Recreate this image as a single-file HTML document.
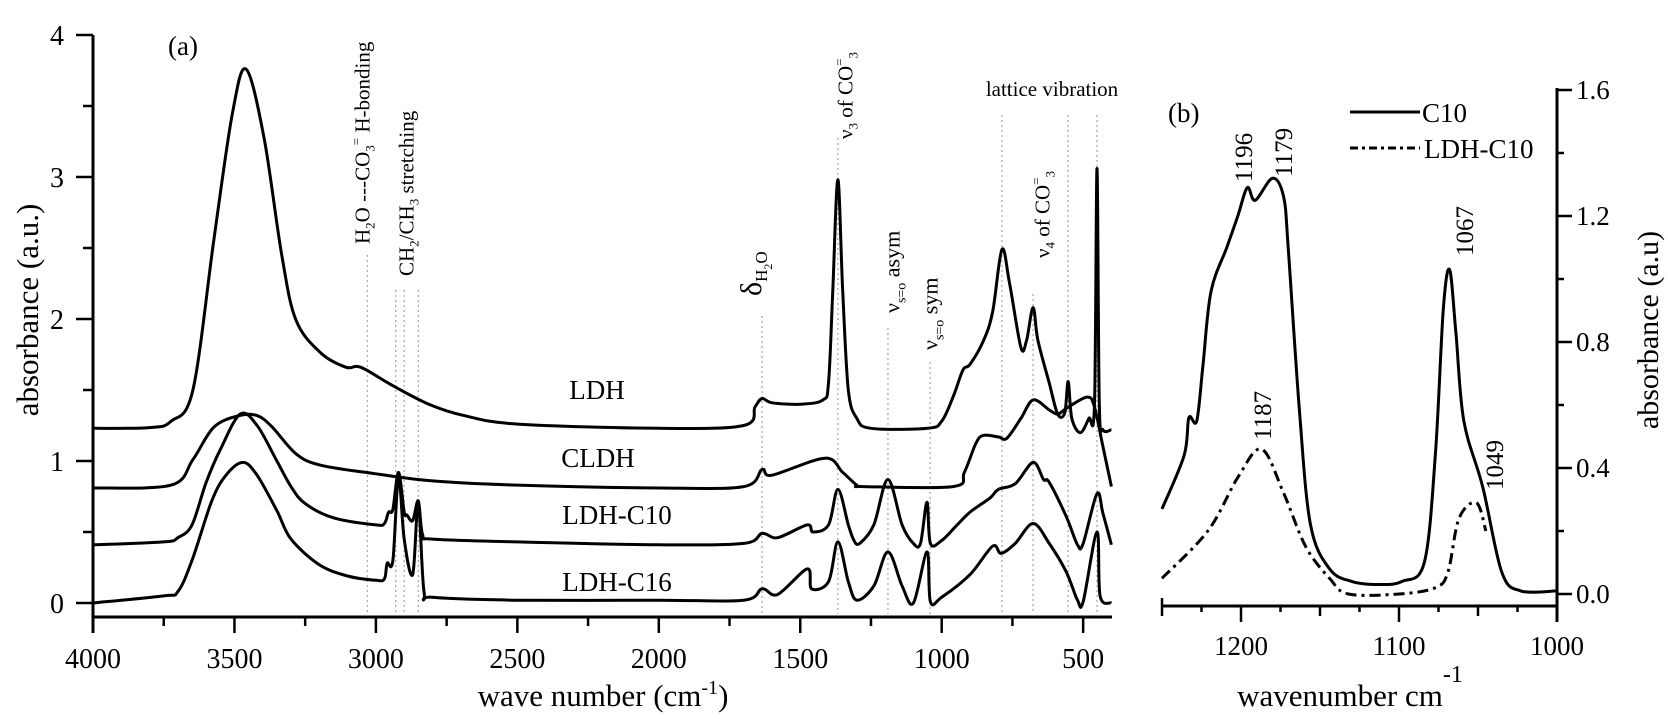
<!DOCTYPE html>
<html><head><meta charset="utf-8">
<style>
html,body{margin:0;padding:0;background:#fff;}
svg{display:block;font-family:"Liberation Serif",serif;}
</style></head>
<body>
<svg id="fig" width="1668" height="719" viewBox="0 0 1668 719" xmlns="http://www.w3.org/2000/svg">
<g id="panelA"></g>
<g id="panelB"></g>
</svg>
<script>
// ---------- Panel (a) data ----------
const ldhWn = [4000,3800,3724,3647,3572,3508,3459,3395,3332,3282,3194,3105,3053,2940,2813,2688,2498,2000,1700,1660,1635,1600,1500,1420,1400,1385,1367,1350,1330,1300,1250,1050,1000,960,925,900,854,820,787,760,720,700,677,660,620,590,565,553,540,510,480,460,451,443,430,400];
const ldhAbs = [1.23,1.235,1.28,1.50,2.57,3.44,3.76,3.27,2.44,1.99,1.76,1.66,1.66,1.53,1.40,1.32,1.26,1.23,1.25,1.38,1.44,1.41,1.40,1.43,1.55,2.2,2.98,2.2,1.5,1.30,1.23,1.23,1.28,1.45,1.64,1.68,1.84,2.05,2.49,2.25,1.80,1.85,2.08,1.85,1.55,1.33,1.34,1.56,1.30,1.20,1.30,1.40,3.06,1.40,1.22,1.22];
const cldhWn = [4000,3724,3647,3572,3483,3420,3367,3282,3194,3000,2800,2500,2000,1700,1635,1600,1413,1350,1300,1276,960,920,880,854,800,770,720,677,620,590,560,486,460,430,400];
const cldhAbs = [0.81,0.83,1.01,1.24,1.32,1.32,1.24,1.05,0.97,0.91,0.86,0.83,0.81,0.82,0.94,0.90,1.02,0.92,0.83,0.82,0.82,0.92,1.12,1.18,1.17,1.16,1.30,1.43,1.36,1.33,1.37,1.45,1.38,1.10,0.82];
const c10Wn = [4000,3750,3700,3650,3600,3550,3480,3420,3350,3300,3250,3150,3000,2970,2955,2940,2920,2900,2890,2870,2850,2835,2800,2500,2000,1700,1635,1580,1475,1455,1400,1367,1330,1310,1290,1240,1190,1140,1100,1075,1052,1040,1000,950,900,829,800,740,677,640,620,560,520,500,451,430,400];
const c10Abs = [0.41,0.43,0.46,0.55,0.85,1.08,1.33,1.25,1.00,0.82,0.70,0.60,0.55,0.56,0.64,0.66,0.92,0.64,0.62,0.58,0.72,0.48,0.45,0.43,0.41,0.42,0.49,0.46,0.55,0.50,0.55,0.80,0.55,0.44,0.42,0.55,0.87,0.55,0.42,0.42,0.71,0.42,0.44,0.54,0.64,0.74,0.80,0.84,0.99,0.87,0.85,0.61,0.41,0.42,0.77,0.63,0.41];
const c16Wn = [4000,3750,3700,3650,3580,3530,3470,3420,3350,3300,3200,3100,3000,2970,2960,2940,2920,2900,2870,2850,2830,2800,2500,2000,1700,1635,1580,1475,1460,1400,1367,1330,1300,1240,1190,1140,1100,1052,1040,1000,900,820,790,740,677,620,560,520,500,451,440,400];
const c16Abs = [0.00,0.05,0.08,0.30,0.72,0.90,0.99,0.90,0.65,0.45,0.27,0.19,0.16,0.17,0.28,0.30,0.89,0.45,0.20,0.70,0.08,0.04,0.02,0.02,0.02,0.10,0.06,0.24,0.10,0.15,0.43,0.15,0.02,0.12,0.36,0.12,0.00,0.36,0.01,0.04,0.20,0.40,0.35,0.42,0.56,0.42,0.22,0.02,0.01,0.50,0.05,0.00];
const aXTicks = [4000,3500,3000,2500,2000,1500,1000,500];
const aYTicks = [0,1,2,3,4];
const guideWn = [3030,2930,2900,2850,1635,1367,1190,1041,787,677,553,451];
const guideTop = [255,290,290,290,316,138,328,362,115,294,115,115];
// ---------- Panel (b) data ----------
const bC10Wn = [1250,1236,1233,1228,1224,1219,1209,1202,1196,1191,1180,1173,1170,1163,1156,1144,1130,1113,1098,1084,1077,1072,1068,1064,1059,1047,1035,1023,1000];
const bC10Abs = [0.27,0.44,0.56,0.55,0.73,0.96,1.10,1.20,1.29,1.25,1.32,1.26,1.09,0.58,0.22,0.08,0.04,0.03,0.04,0.10,0.44,0.90,1.03,0.83,0.55,0.34,0.07,0.01,0.01];
const bLdhWn = [1250,1221,1202,1187,1173,1159,1144,1132,1100,1077,1069,1062,1051,1045];
const bLdhAbs = [0.05,0.20,0.37,0.46,0.32,0.15,0.05,0.00,0.00,0.02,0.07,0.24,0.29,0.20];
const bXTicks = [1200,1100,1000];
const bYTicks = [0.0,0.4,0.8,1.2,1.6];

const NS = "http://www.w3.org/2000/svg";
function mk(tag, attrs, parent, text){
  const e = document.createElementNS(NS, tag);
  for (const k in attrs) e.setAttribute(k, attrs[k]);
  if (text !== undefined) e.textContent = text;
  parent.appendChild(e);
  return e;
}
function smoothPath(pts){
  let d = "M" + pts[0][0].toFixed(1) + "," + pts[0][1].toFixed(1);
  for (let i=0;i<pts.length-1;i++){
    const p0 = pts[Math.max(0,i-1)], p1 = pts[i], p2 = pts[i+1], p3 = pts[Math.min(pts.length-1,i+2)];
    const c1x = p1[0]+(p2[0]-p0[0])/6, c1y = p1[1]+(p2[1]-p0[1])/6;
    const c2x = p2[0]-(p3[0]-p1[0])/6, c2y = p2[1]-(p3[1]-p1[1])/6;
    d += " C"+c1x.toFixed(1)+","+c1y.toFixed(1)+" "+c2x.toFixed(1)+","+c2y.toFixed(1)+" "+p2[0].toFixed(1)+","+p2[1].toFixed(1);
  }
  return d;
}

// ---------- Panel (a) ----------
const A = document.getElementById('panelA');
const ax = w => 93 + (4000 - w) * 0.2829;
const ay = v => 603 - v * 142;

for (let i=0;i<guideWn.length;i++){
  const g = mk('line',{x1:ax(guideWn[i]),x2:ax(guideWn[i]),y1:guideTop[i],y2:614,stroke:'#aaa','stroke-width':1.3,'stroke-dasharray':'2,3'},A);
  
  
}
let e = mk('line',{x1:93,y1:35,x2:93,y2:633,stroke:'#000','stroke-width':3},A);
 
e = mk('line',{x1:92,y1:617,x2:1112,y2:617,stroke:'#000','stroke-width':3},A);
 
for (let w=4000; w>=500; w-=250){
  const major = (w % 500 === 0);
  const t = mk('line',{x1:ax(w),x2:ax(w),y1:617,y2:major?633:626,stroke:'#000','stroke-width':2.5},A);
   
}
aXTicks.forEach(w=>{
  const t = mk('text',{x:ax(w),y:668,'font-size':28,'text-anchor':'middle'},A,String(w));
   
});
for (let v=0; v<=4; v+=0.5){
  const major = Number.isInteger(v);
  const t = mk('line',{x1:major?76:83,x2:93,y1:ay(v),y2:ay(v),stroke:'#000','stroke-width':2.5},A);
   
}
aYTicks.forEach(v=>{
  const t = mk('text',{x:57,y:ay(v)+10,'font-size':28,'text-anchor':'middle'},A,String(v));
   
});
e = mk('text',{x:0,y:0,'font-size':31,'text-anchor':'middle',transform:'translate(38,310) rotate(-90)'},A,'absorbance (a.u.)');
 
e = mk('text',{x:603,y:706,'font-size':31,'text-anchor':'middle'},A);
 
e.innerHTML = 'wave number (cm<tspan dy="-12" font-size="20">-1</tspan><tspan dy="12">)</tspan>';
e = mk('text',{x:168,y:55,'font-size':27},A,'(a)');
 

const seriesA = [[ldhWn,ldhAbs,'ldh-spectrum'],[cldhWn,cldhAbs,'cldh-spectrum'],[c10Wn,c10Abs,'ldh-c10-spectrum'],[c16Wn,c16Abs,'ldh-c16-spectrum']];
seriesA.forEach(s=>{
  const pts = s[0].map((w,i)=>[ax(w), ay(s[1][i])]);
  const p = mk('path',{d:smoothPath(pts),fill:'none',stroke:'#000','stroke-width':3,'stroke-linejoin':'round'},A);
  
  
});
const curveLabels = [['LDH',597,399],['CLDH',598,467],['LDH-C10',617,524],['LDH-C16',617,591]];
curveLabels.forEach(c=>{
  const t = mk('text',{x:c[1],y:c[2],'font-size':27,'text-anchor':'middle'},A,c[0]);
   
});
function rot(html, x, yb, fs, name){
  const t = mk('text',{x:0,y:0,'font-size':fs,transform:'translate('+(x+fs*0.35)+','+yb+') rotate(-90)'},A);
  t.innerHTML = html;
  
  
}
rot('H<tspan dy="5" font-size="13">2</tspan><tspan dy="-5">O ---CO</tspan><tspan dy="5" font-size="13">3</tspan><tspan dy="-14" font-size="13">=</tspan><tspan dy="9"> H-bonding</tspan>', 362, 244, 21, 'annotation-h-bonding');
rot('CH<tspan dy="5" font-size="13">2</tspan><tspan dy="-5">/CH</tspan><tspan dy="5" font-size="13">3</tspan><tspan dy="-5"> stretching</tspan>', 406, 276, 21, 'annotation-ch-stretching');
rot('<tspan font-size="30">δ</tspan><tspan dy="6" font-size="17">H</tspan><tspan dy="5" font-size="12">2</tspan><tspan dy="-5" font-size="17">O</tspan>', 752, 296, 26, 'annotation-delta-h2o');
rot('ν<tspan dy="5" font-size="13">3</tspan><tspan dy="-5"> of CO</tspan><tspan dy="-9" font-size="13">=</tspan><tspan dy="14" font-size="13">3</tspan>', 845, 139, 21, 'annotation-v3-co3');
rot('ν<tspan dy="6" font-size="14">s=o</tspan><tspan dy="-6"> asym</tspan>', 892, 313, 22, 'annotation-so-asym');
rot('ν<tspan dy="6" font-size="14">s=o</tspan><tspan dy="-6"> sym</tspan>', 930, 350, 22, 'annotation-so-sym');
rot('ν<tspan dy="5" font-size="13">4</tspan><tspan dy="-5"> of CO</tspan><tspan dy="-9" font-size="13">=</tspan><tspan dy="14" font-size="13">3</tspan>', 1042, 258, 21, 'annotation-v4-co3');
e = mk('text',{x:1052,y:96,'font-size':21,'text-anchor':'middle'},A,'lattice vibration');
 

// ---------- Panel (b) ----------
const B = document.getElementById('panelB');
const bx = w => 1162 + (1250 - w) * 1.58;
const by = v => 594 - v * 315;
e = mk('line',{x1:1162,y1:606,x2:1558,y2:606,stroke:'#000','stroke-width':3},B);
 
e = mk('line',{x1:1557,y1:88,x2:1557,y2:622,stroke:'#000','stroke-width':3},B);
 
for (let w=1250; w>=1000; w-=25){
  const major = (w % 50 === 0);
  const t = mk('line',{x1:bx(w),x2:bx(w),y1:w===1250?598:606,y2:major?(w%100===0?622:616):612,stroke:'#000','stroke-width':2.5},B);
   
}
bXTicks.forEach(w=>{
  const t = mk('text',{x:bx(w),y:655,'font-size':27,'text-anchor':'middle'},B,String(w));
   
});
for (let i=0;i<=8;i++){
  const v = i*0.2;
  const t = mk('line',{x1:1557,x2:(i%2===0)?1572:1564,y1:by(v),y2:by(v),stroke:'#000','stroke-width':2.5},B);
   
}
bYTicks.forEach(v=>{
  const t = mk('text',{x:1576,y:by(v)+9,'font-size':27},B,v.toFixed(1));
   
});
e = mk('text',{x:0,y:0,'font-size':30,'text-anchor':'middle',transform:'translate(1658,330) rotate(-90)'},B,'absorbance (a.u)');
 
e = mk('text',{x:1350,y:706,'font-size':31,'text-anchor':'middle'},B);
e.innerHTML = 'wavenumber cm<tspan dy="-24" font-size="24">-1</tspan>';
 
e = mk('text',{x:1168,y:122,'font-size':27},B,'(b)');
 

let pb = mk('path',{d:smoothPath(bC10Wn.map((w,i)=>[bx(w),by(bC10Abs[i])])),fill:'none',stroke:'#000','stroke-width':3},B);


pb = mk('path',{d:smoothPath(bLdhWn.map((w,i)=>[bx(w),by(bLdhAbs[i])])),fill:'none',stroke:'#000','stroke-width':3,'stroke-dasharray':'11,5,3,5'},B);



e = mk('line',{x1:1350,y1:112,x2:1420,y2:112,stroke:'#000','stroke-width':3},B);
 
e = mk('text',{x:1422,y:122,'font-size':27},B,'C10');
 
e = mk('line',{x1:1350,y1:148,x2:1420,y2:148,stroke:'#000','stroke-width':3,'stroke-dasharray':'8,4,3,4'},B);
 
e = mk('text',{x:1424,y:158,'font-size':27},B,'LDH-C10');
 

function rotB(txt, x, yb, name){
  const t = mk('text',{x:0,y:0,'font-size':25,transform:'translate('+(x+9)+','+yb+') rotate(-90)'},B,txt);
  
  
}
rotB('1196', 1243, 182, 'peak-label-1196');
rotB('1179', 1283, 177, 'peak-label-1179');
rotB('1067', 1464, 256, 'peak-label-1067');
rotB('1187', 1262, 440, 'peak-label-1187');
rotB('1049', 1494, 490, 'peak-label-1049');
</script>
</body></html>
